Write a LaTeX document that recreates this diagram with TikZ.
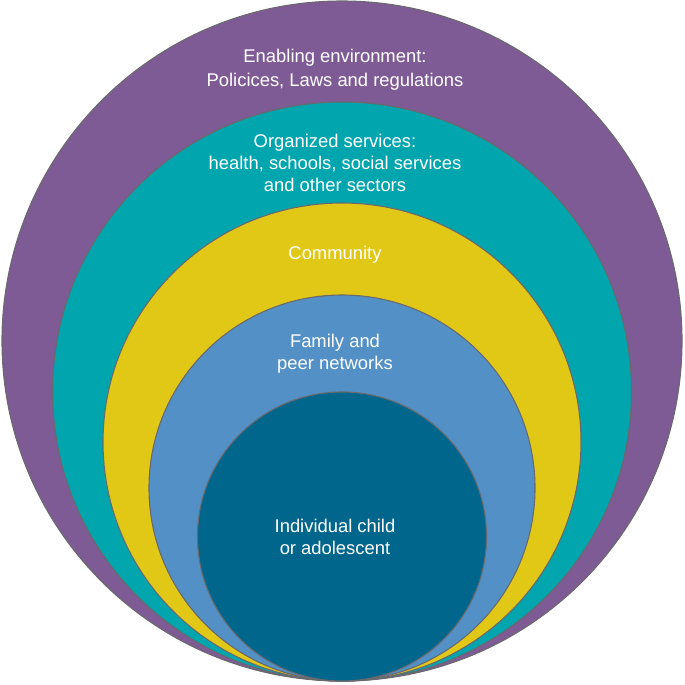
\documentclass[tikz,border=0pt]{standalone}
\usepackage{fontspec}
\setmainfont{Liberation Sans}
\definecolor{cpurple}{RGB}{127,91,150}
\definecolor{cteal}{RGB}{0,165,174}
\definecolor{cyellow}{RGB}{226,200,22}
\definecolor{cblue}{RGB}{82,144,197}
\definecolor{cdark}{RGB}{0,102,140}
\definecolor{cedge}{RGB}{105,105,110}
\begin{document}
\begin{tikzpicture}[x=1pt,y=-1pt,
  ring/.style={draw=cedge,line width=1.1pt},
  lbl/.style={text=white,anchor=base,inner sep=0pt,font=\fontsize{18.4}{22}\selectfont}]
\useasboundingbox (0,0) rectangle (685,685);
\fill[white] (0,0) rectangle (685,685);
\path[ring,fill=cpurple] (342,341) circle[radius=340];
\path[ring,fill=cteal] (342,391.5) circle[radius=289.5];
\path[ring,fill=cyellow] (342,442) circle[radius=239];
\path[ring,fill=cblue] (342,488) circle[radius=193];
\path[ring,fill=cdark] (342,536.5) circle[radius=144.5];
\node[lbl] (env1) at (335,63) {Enabling environment:};
\node[lbl] (env2) at (335,86) {Policices, Laws and regulations};
\node[lbl] (org1) at (335,147) {Organized services:};
\node[lbl] (org2) at (335,169) {health, schools, social services};
\node[lbl] (org3) at (335,191) {and other sectors};
\node[lbl] (com) at (335,259) {Community};
\node[lbl] (fam1) at (335,347) {Family and};
\node[lbl] (fam2) at (335,369) {peer networks};
\node[lbl] (ind1) at (335,532) {Individual child};
\node[lbl] (ind2) at (335,554) {or adolescent};
\end{tikzpicture}
\end{document}
